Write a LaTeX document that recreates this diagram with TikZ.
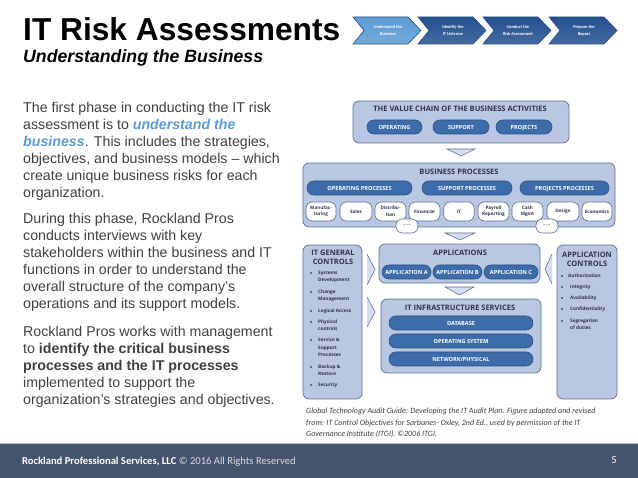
\documentclass[tikz,border=0pt]{standalone}
\usepackage{fontspec}
\setmainfont{Liberation Sans}
\newfontfamily\capfont{Carlito}
\newfontfamily\figfont{Open Sans}
\definecolor{panelfill}{HTML}{BAC7E2}
\definecolor{panelline}{HTML}{5F7190}
\definecolor{pillfill}{HTML}{3D6CAB}
\definecolor{pillline}{HTML}{2B4F80}
\definecolor{darkchev}{HTML}{24508F}
\definecolor{lightchev}{HTML}{5B9BD5}
\definecolor{footfill}{HTML}{44546A}
\definecolor{bodytext}{HTML}{404040}
\definecolor{headtext}{HTML}{2B3550}
\definecolor{linktext}{HTML}{5B9BD5}
\tikzset{
	panel/.style={draw=panelline,fill=panelfill,line width=0.7pt,rounded corners=6pt,inner sep=0pt},
	pill/.style={draw=pillline,fill=pillfill,line width=0.6pt,rounded corners=6.9pt,inner sep=0pt,minimum height=14pt,text height=4.2pt,text depth=0pt,text=white,font=\figfont\bfseries\fontsize{5.6}{6}\selectfont},
	procbox/.style={draw=panelline,fill=white,line width=0.6pt,rounded corners=6.5pt,inner sep=0pt,minimum height=19pt,align=center,text=headtext,font=\figfont\bfseries\fontsize{4.6}{6.5}\selectfont},
	head/.style={text=headtext,align=center,inner sep=0pt,font=\figfont\bfseries\fontsize{7.5}{9.2}\selectfont},
	item/.style={anchor=west,inner sep=0pt,align=left,text=headtext,font=\figfont\bfseries\fontsize{4.7}{7.3}\selectfont},
	chev/.style={draw=pillline,line width=0.6pt},
	flow/.style={draw=panelline,fill=panelfill!60,line width=0.6pt},
	chevtext/.style={inner sep=0pt,align=center,text=white,font=\capfont\bfseries\fontsize{4.4}{7.2}\selectfont},
	para/.style={anchor=north west,inner sep=0pt,align=left,text=bodytext,font=\fontsize{14.2}{17}\selectfont}
}
\begin{document}
\begin{tikzpicture}[x=1pt,y=-1pt]
	\useasboundingbox (0,0) rectangle (638,478);
	\fill[white] (0,0) rectangle (638,478);
	% heading
	\node[anchor=base west,inner sep=0pt,font=\bfseries\fontsize{31.7}{36}\selectfont] (title) at (23,41) {IT Risk Assessments};
	\node[anchor=base west,inner sep=0pt,font=\bfseries\itshape\fontsize{17.7}{22}\selectfont] (subtitle) at (23,63) {Understanding the Business};
	% left text
	\node[para] (first) at (23,102) {The first phase in conducting the IT risk\\assessment is to \textcolor{linktext}{\bfseries\itshape understand the}\\\textcolor{linktext}{\bfseries\itshape business}.  This includes the strategies,\\objectives, and business models -- which\\create unique business risks for each\\organization.};
	\node[para] (second) at (23,213) {During this phase, Rockland Pros\\conducts interviews with key\\stakeholders within the business and IT\\functions in order to understand the\\overall structure of the company’s\\operations and its support models.};
	\node[para] (third) at (23,326) {Rockland Pros works with management\\to \textbf{identify the critical business}\\\textbf{processes and the IT processes}\\implemented to support the\\organization’s strategies and objectives.};
	% phase chevrons
	\foreach \x/\c/\n/\t in {353/lightchev/chevA/Understand the\\Business,418/darkchev/chevB/Identify the\\IT Universe,483/darkchev/chevC/Conduct the\\Risk Assessment,549/darkchev/chevD/Prepare the\\Report}{
		\draw[chev,top color=\c,bottom color=\c!85!white] (\x,17) -- (\x+55,17) -- (\x+68,30.5) -- (\x+55,44) -- (\x,44) -- (\x+11,30.5) -- cycle;
		\node[chevtext] (\n) at (\x+35,30.5) {\t};
	}
	% value chain
	\node[panel,minimum width=216pt,minimum height=42pt] (value) at (461,122) {};
	\node[head] (valuehead) at (460,109) {THE VALUE CHAIN OF THE BUSINESS ACTIVITIES};
	\node[pill,minimum width=55pt] (operating) at (394.5,127) {OPERATING};
	\node[pill,minimum width=56pt] (support) at (461,127) {SUPPORT};
	\node[pill,minimum width=56pt] (projects) at (524,127) {PROJECTS};
	\draw[flow] (447,149) -- (475,149) -- (461,156) -- cycle;
	% business processes
	\node[panel,minimum width=312pt,minimum height=64pt] (business) at (459,195) {};
	\node[head] (businesshead) at (459,172) {BUSINESS PROCESSES};
	\node[pill,minimum width=105pt] (operproc) at (359.5,188) {OPERATING PROCESSES};
	\node[pill,minimum width=90pt] (suppproc) at (467,188) {SUPPORT PROCESSES};
	\node[pill,minimum width=89pt] (projproc) at (564.5,188) {PROJECTS PROCESSES};
	\foreach \x/\w/\n/\t in {321/30/manuf/Manufac-\\turing,356/32/sales/Sales,390.5/31/distrib/Distribu-\\tion,424.5/31/financial/Financial,459/30.5/itbox/IT,493.5/31/payroll/Payroll\\Reporting,527.5/31/cash/Cash\\Mgmt,563/32/design/Design,597/30/economics/Economics}{
		\node[procbox,minimum width=\w pt] (\n) at (\x,211.5) {\t};
	}
	\node[procbox,minimum width=22pt,minimum height=14pt] (moreA) at (407,226) {- - -};
	\node[procbox,minimum width=22pt,minimum height=14pt] (moreB) at (547,226) {- - -};
	\draw[flow] (445,233) -- (475,233) -- (460,240) -- cycle;
	% general controls
	\node[panel,minimum width=59pt,minimum height=154pt] (general) at (332.5,322) {};
	\node[head] (generalhead) at (333,257.5) {IT GENERAL\\CONTROLS};
	\foreach \y/\n/\t in {277/sysdev/Systems\\Development,295.5/change/Change\\Management,311/logical/Logical Access,325.5/physical/Physical\\controls,347.5/service/Service \&\\Support\\Processes,370.5/backup/Backup \&\\Restore,385/security/Security}{
		\node[item] (\n) at (318,\y) {\t};
	}
	\foreach \y in {273,292,311,322,340,367,385}{
		\fill[headtext] (311,\y) circle (1pt);
	}
	\draw[flow] (367,254) -- (375,269.5) -- (367,285);
	\draw[flow] (367,297) -- (375,312) -- (367,327);
	% applications
	\node[panel,minimum width=161pt,minimum height=39pt] (apps) at (459.5,263.5) {};
	\node[head] (appshead) at (460,253) {APPLICATIONS};
	\node[pill,minimum width=49pt] (appA) at (406.5,272) {APPLICATION A};
	\node[pill,minimum width=49pt] (appB) at (457.5,272) {APPLICATION B};
	\node[pill,minimum width=54pt] (appC) at (511,272) {APPLICATION C};
	\draw[flow] (445,287) -- (474,287) -- (459.5,295) -- cycle;
	% infrastructure
	\node[panel,minimum width=160pt,minimum height=74pt] (infra) at (461,336) {};
	\node[head] (infrahead) at (460,308) {IT INFRASTRUCTURE SERVICES};
	\node[pill,minimum width=144pt] (database) at (461,323) {DATABASE};
	\node[pill,minimum width=144pt] (opsys) at (461,341) {OPERATING SYSTEM};
	\node[pill,minimum width=144pt] (network) at (461,359) {NETWORK/PHYSICAL};
	% application controls
	\node[panel,minimum width=60pt,minimum height=154pt] (appctl) at (587,322) {};
	\node[head] (appctlhead) at (587,259.5) {APPLICATION\\CONTROLS};
	\foreach \x/\y/\n/\t in {568/276/authz/Authorization,570/287/integrity/Integrity,570/298/avail/Availability,570/309/confid/Confidentiality,570/324.5/segreg/Segregation\\of duties}{
		\node[item] (\n) at (\x,\y) {\t};
	}
	\foreach \y in {276,287,298,309,321}{
		\fill[headtext] (562,\y) circle (1pt);
	}
	\draw[flow] (552,254) -- (545,269) -- (552,284);
	% source note
	\node[anchor=north west,inner sep=0pt,align=left,text=bodytext,font=\capfont\itshape\fontsize{8.05}{11.5}\selectfont] (note) at (306,408) {Global Technology Audit Guide: Developing the IT Audit Plan.  Figure adapted and revised\\from: IT Control Objectives for Sarbanes- Oxley, 2nd Ed., used by permission of the IT\\Governance Institute (ITGI). ©2006 ITGI.};
	% footer
	\fill[footfill] (0,444) rectangle (638,478);
	\draw[line width=1pt,color=footfill!40] (0,443.5) -- (638,443.5);
	\node[anchor=base west,inner sep=0pt,text=white,font=\capfont\fontsize{10.6}{12}\selectfont] (owner) at (22,465) {\textbf{Rockland Professional Services, LLC} \textcolor{white!80!footfill}{© 2016 All Rights Reserved}};
	\node[anchor=base,inner sep=0pt,text=white,font=\capfont\fontsize{10.6}{12}\selectfont] (pageno) at (614,464) {5};
\end{tikzpicture}
\end{document}
